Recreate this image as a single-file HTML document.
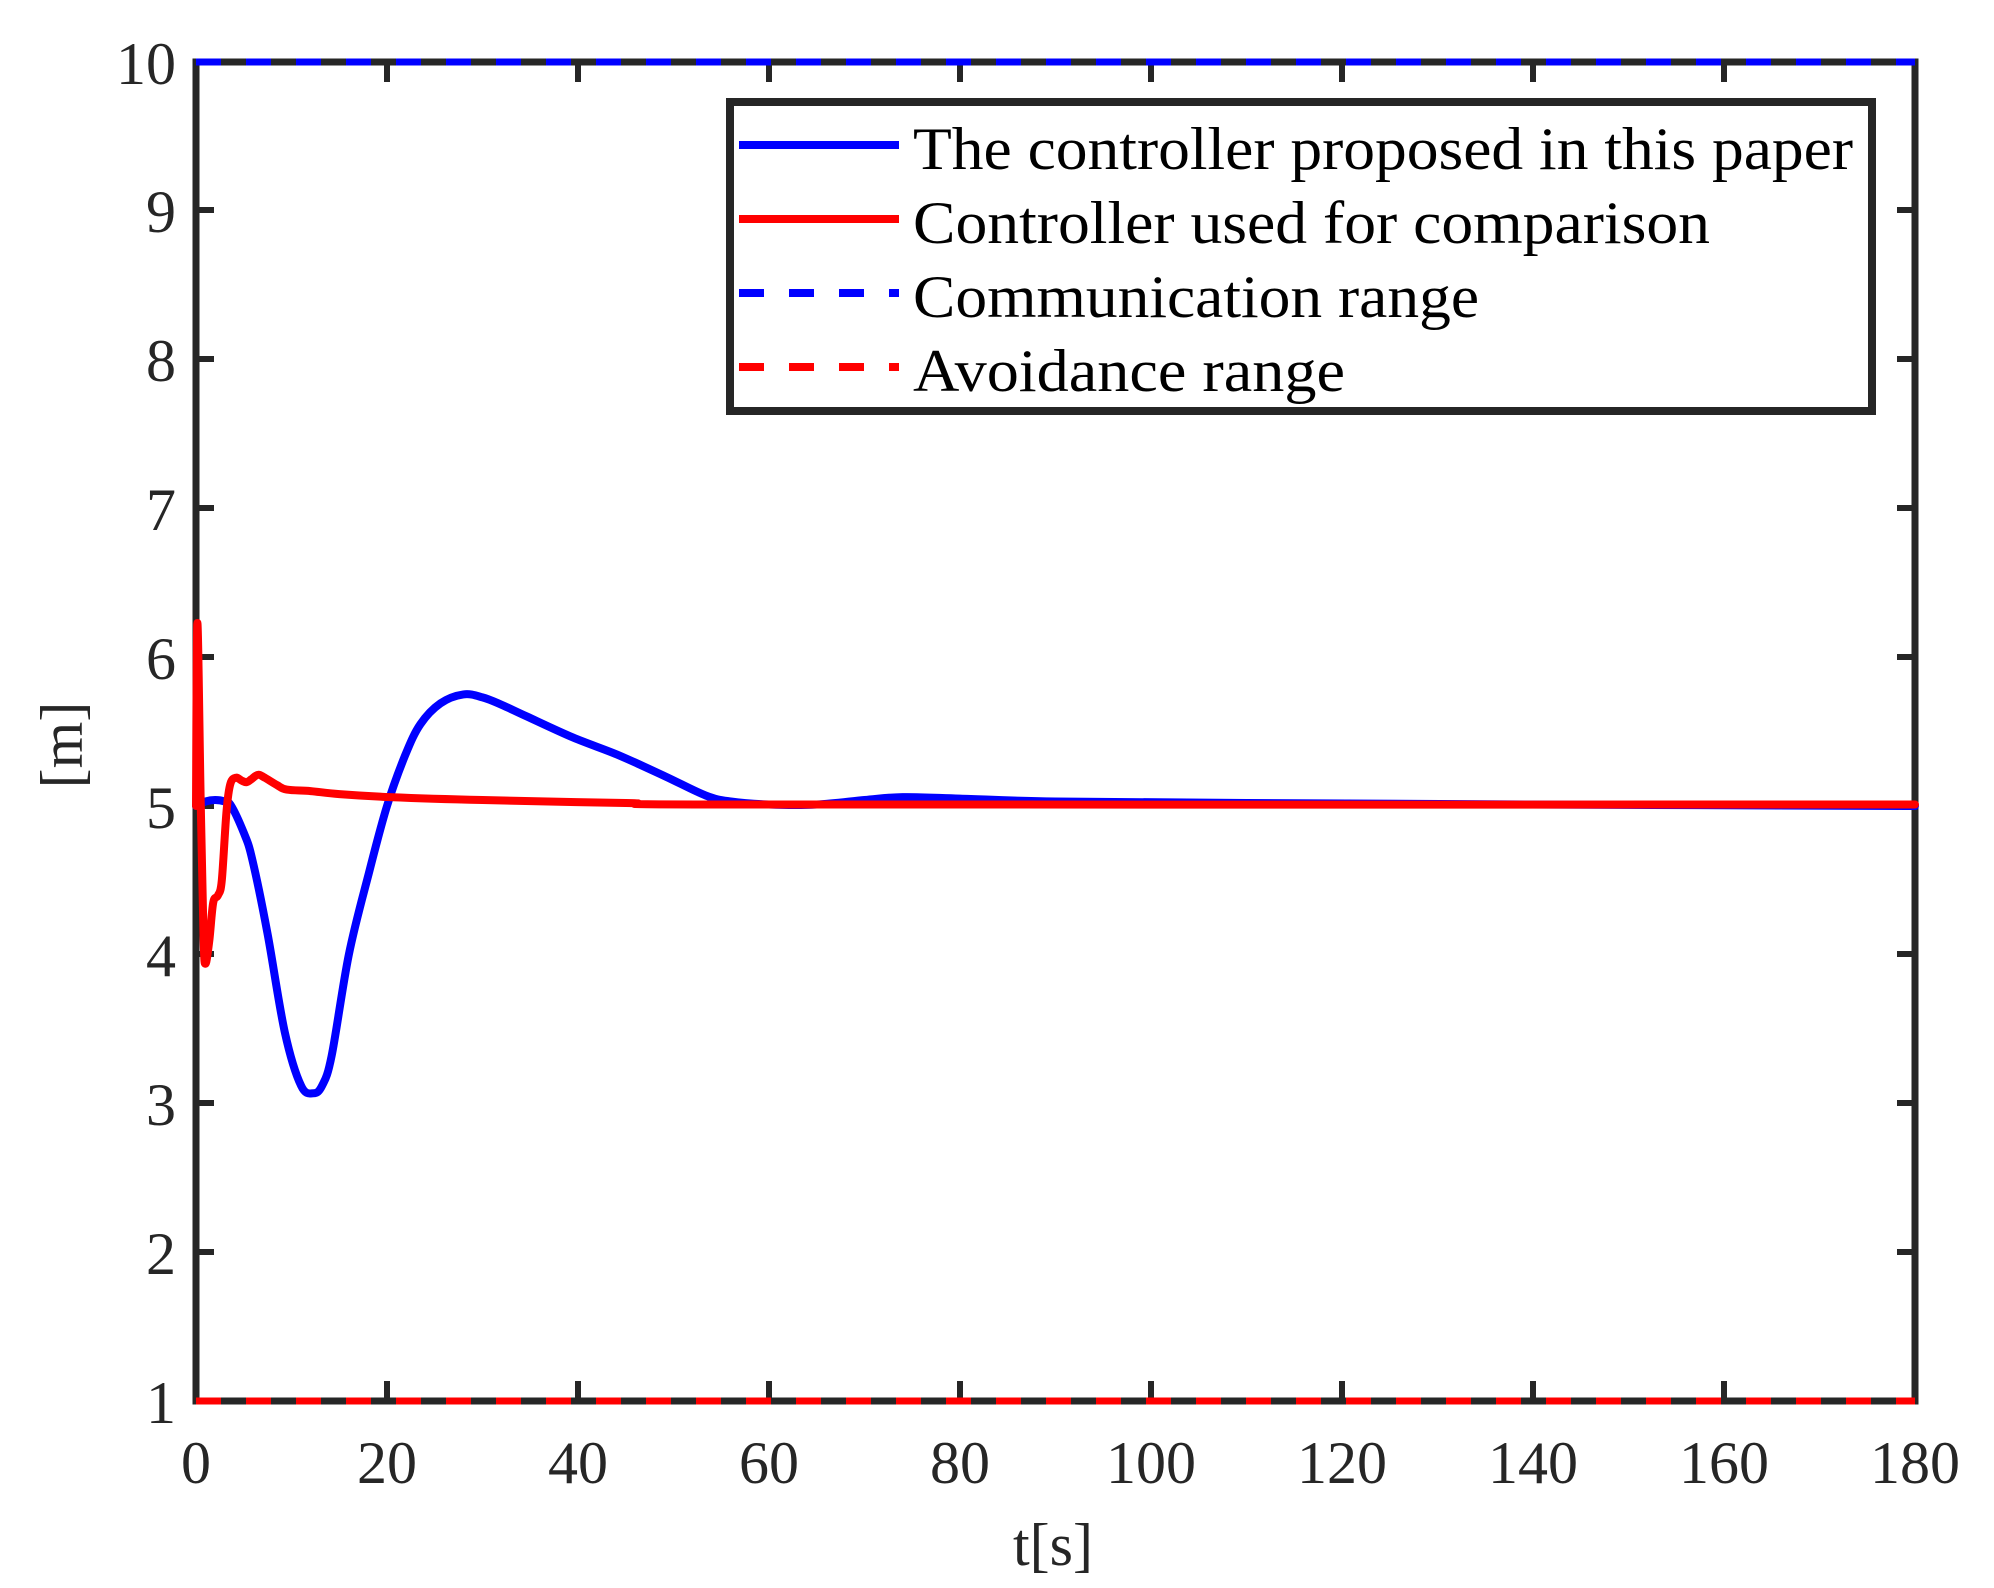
<!DOCTYPE html>
<html><head><meta charset="utf-8"><style>html,body{margin:0;padding:0;background:#fff}svg{display:block}</style></head>
<body>
<svg width="1994" height="1588" viewBox="0 0 1994 1588" xmlns="http://www.w3.org/2000/svg" font-family="'Liberation Serif', serif" fill="#262626">
<g stroke="#262626" stroke-width="6">
<path d="M196 210h18M196 359h18M196 508h18M196 657h18M196 806h18M196 954h18M196 1103h18M196 1252h18
M1915 210h-18M1915 359h-18M1915 508h-18M1915 657h-18M1915 806h-18M1915 954h-18M1915 1103h-18M1915 1252h-18
M387 1401v-20M578 1401v-20M769 1401v-20M960 1401v-20M1151 1401v-20M1342 1401v-20M1533 1401v-20M1724 1401v-20
M387 62v20M578 62v20M769 62v20M960 62v20M1151 62v20M1342 62v20M1533 62v20M1724 62v20"/>
</g>
<rect x="196" y="62" width="1719" height="1339" fill="none" stroke="#262626" stroke-width="7"/>
<line x1="196" y1="62" x2="1915" y2="62" stroke="#0000ff" stroke-width="7" stroke-dasharray="25 25"/>
<line x1="196" y1="1401" x2="1915" y2="1401" stroke="#ff0000" stroke-width="7" stroke-dasharray="25 25"/>
<path id="blue" fill="none" stroke="#0000ff" stroke-width="8" stroke-linejoin="round" stroke-linecap="round"/>
<path id="red" fill="none" stroke="#ff0000" stroke-width="8" stroke-linejoin="round" stroke-linecap="round"/>
<g font-size="60" text-anchor="end">
<text x="176" y="84">10</text><text x="176" y="232">9</text><text x="176" y="381">8</text><text x="176" y="530">7</text><text x="176" y="679">6</text><text x="176" y="828">5</text><text x="176" y="976">4</text><text x="176" y="1125">3</text><text x="176" y="1274">2</text><text x="176" y="1423">1</text>
</g>
<g font-size="60" text-anchor="middle">
<text x="196" y="1483">0</text><text x="387" y="1483">20</text><text x="578" y="1483">40</text><text x="769" y="1483">60</text><text x="960" y="1483">80</text><text x="1151" y="1483">100</text><text x="1342" y="1483">120</text><text x="1533" y="1483">140</text><text x="1724" y="1483">160</text><text x="1915" y="1483">180</text>
<text x="1053" y="1565">t[s]</text>
<text transform="translate(82,745) rotate(-90)">[m]</text>
</g>
<rect x="730" y="102" width="1142" height="309" fill="#fff" stroke="#262626" stroke-width="8"/>
<path d="M739 145h160" stroke-width="8" stroke="#0000ff"/>
<path d="M739 219h160" stroke-width="8" stroke="#ff0000"/>
<path d="M739 293h160" stroke-width="8" stroke="#0000ff" stroke-dasharray="25 25"/>
<path d="M739 367h160" stroke-width="8" stroke="#ff0000" stroke-dasharray="25 25"/>
<g font-size="60" fill="#000">
<text x="913" y="169" textLength="940" lengthAdjust="spacingAndGlyphs">The controller proposed in this paper</text>
<text x="913" y="243" textLength="797" lengthAdjust="spacingAndGlyphs">Controller used for comparison</text>
<text x="913" y="317" textLength="566" lengthAdjust="spacingAndGlyphs">Communication range</text>
<text x="913" y="391" textLength="432" lengthAdjust="spacingAndGlyphs">Avoidance range</text>
</g>
</svg>
<script>
function P(t,v){return [196+t*9.55,1550-v*148.8];}
function spline(d){var p=d.map(function(a){return P(a[0],a[1]);});var s="M"+p[0][0].toFixed(1)+" "+p[0][1].toFixed(1);
for(var i=0;i<p.length-1;i++){var p0=p[Math.max(i-1,0)],p1=p[i],p2=p[i+1],p3=p[Math.min(i+2,p.length-1)];
var c1=[p1[0]+(p2[0]-p0[0])/6,p1[1]+(p2[1]-p0[1])/6],c2=[p2[0]-(p3[0]-p1[0])/6,p2[1]-(p3[1]-p1[1])/6];
s+="C"+c1[0].toFixed(1)+" "+c1[1].toFixed(1)+" "+c2[0].toFixed(1)+" "+c2[1].toFixed(1)+" "+p2[0].toFixed(1)+" "+p2[1].toFixed(1);}return s;}
var blue=[[0,5],[1,5.03],[2,5.04],[3,5.03],[3.7,5],[5,4.82],[5.9,4.64],[7.5,4.14],[9.3,3.48],[11,3.12],[12.3,3.07],[13.2,3.12],[14.2,3.32],[16,4.0],[18.1,4.55],[20,5.0],[21.9,5.34],[23.5,5.55],[25.6,5.69],[28,5.75],[30,5.73],[32,5.68],[34.7,5.6],[39.5,5.46],[44.3,5.34],[49.1,5.2],[53.4,5.07],[56,5.03],[60,5.01],[65,5.01],[70,5.04],[74,5.06],[80,5.05],[90,5.03],[110,5.02],[140,5.01],[180,5.0]];
var red=[[0,5],[0.15,6.23],[0.5,5.0],[0.8,4.1],[1,3.94],[1.4,4.1],[1.8,4.35],[2.3,4.4],[2.7,4.5],[3.2,4.97],[3.6,5.15],[4.2,5.19],[4.8,5.17],[5.3,5.16],[5.8,5.18],[6.5,5.21],[7.2,5.19],[8.5,5.14],[9.5,5.11],[12,5.1],[15,5.08],[20.3,5.06],[30,5.04],[45,5.02],[60,5.01],[180,5.01]];
document.getElementById("blue").setAttribute("d",spline(blue));
document.getElementById("red").setAttribute("d",spline(red));
</script>
</body></html>
